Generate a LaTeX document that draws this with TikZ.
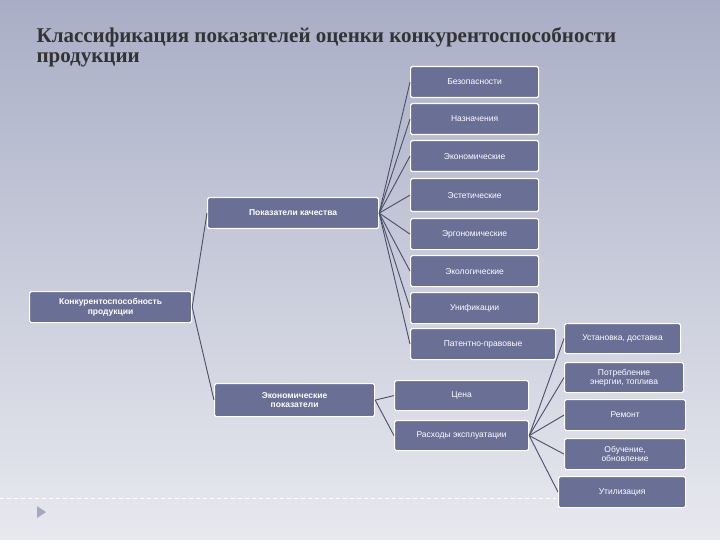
\documentclass[tikz,border=0pt]{standalone}
\usepackage{fontspec}
\setmainfont{Liberation Sans}
\newfontfamily\titlefont{Liberation Serif}
\definecolor{boxfill}{HTML}{6A6F96}
\definecolor{bgtop}{HTML}{A9AEC6}
\definecolor{bgbot}{HTML}{E8E9EF}
\definecolor{linec}{HTML}{4A4E6A}
\tikzset{
  bx/.style={draw=white, line width=1.2pt, fill=boxfill, rounded corners=1.5pt, text=white, font=\fontsize{8.5}{9.5}\selectfont, align=center, inner sep=0pt},
  cn/.style={draw=linec, line width=0.9pt}
}
\newcommand{\bxn}[6]{\node[bx, minimum width=#4-#2, minimum height=#5-#3, anchor=north west] (#1) at (#2,#3) {#6};}
\begin{document}
\begin{tikzpicture}[x=1pt,y=-1pt]
\shade[top color=bgtop, bottom color=bgbot] (0,0) rectangle (720,540);
\useasboundingbox (0,0) rectangle (720,540);
\node[anchor=west, font=\titlefont\bfseries\fontsize{21}{22}\selectfont, text=black!80, align=left] (title) at (33,47) {Классификация показателей оценки конкурентоспособности\\[-2pt]продукции};
\draw[white, dashed, line width=0.8pt, dash pattern=on 4pt off 3pt] (0,498) -- (556,498);
\fill[boxfill!60] (37,506) -- (46,512) -- (37,518) -- cycle;
\bxn{q1}{410}{66}{538}{97}{Безопасности}
\bxn{q2}{410}{103}{538}{134}{Назначения}
\bxn{q3}{410}{140}{538}{171}{Экономические}
\bxn{q4}{410}{178}{538}{211}{Эстетические}
\bxn{q5}{410}{218}{538}{249}{Эргономические}
\bxn{q6}{410}{255}{538}{286}{Экологические}
\bxn{q7}{410}{292}{538}{323}{Унификации}
\bxn{q8}{410}{328}{555}{359}{Патентно-правовые}
\bxn{pk}{207}{197}{378}{228}{\bfseries Показатели качества}
\bxn{root}{29}{291}{191}{322}{\bfseries Конкурентоспособность\\\bfseries продукции}
\bxn{ep}{214}{383}{374}{416}{\bfseries Экономические\\\bfseries показатели}
\bxn{price}{394}{380}{528}{410}{Цена}
\bxn{rash}{394}{420}{528}{450}{Расходы эксплуатации}
\bxn{r1}{564}{323}{680}{353}{Установка, доставка}
\bxn{r2}{564}{362}{683}{392}{Потребление\\энергии, топлива}
\bxn{r3}{564}{399}{685}{430}{Ремонт}
\bxn{r4}{564}{438}{685}{469}{Обучение,\\обновление}
\bxn{r5}{558}{476}{685}{507}{Утилизация}
\foreach \t in {pk,ep} \draw[cn] (root.east) -- (\t.west);
\foreach \t in {q1,q2,q3,q4,q5,q6,q7,q8} \draw[cn] (pk.east) -- (\t.west);
\foreach \t in {price,rash} \draw[cn] (ep.east) -- (\t.west);
\foreach \t in {r1,r2,r3,r4,r5} \draw[cn] (rash.east) -- (\t.west);
\end{tikzpicture}
\end{document}
